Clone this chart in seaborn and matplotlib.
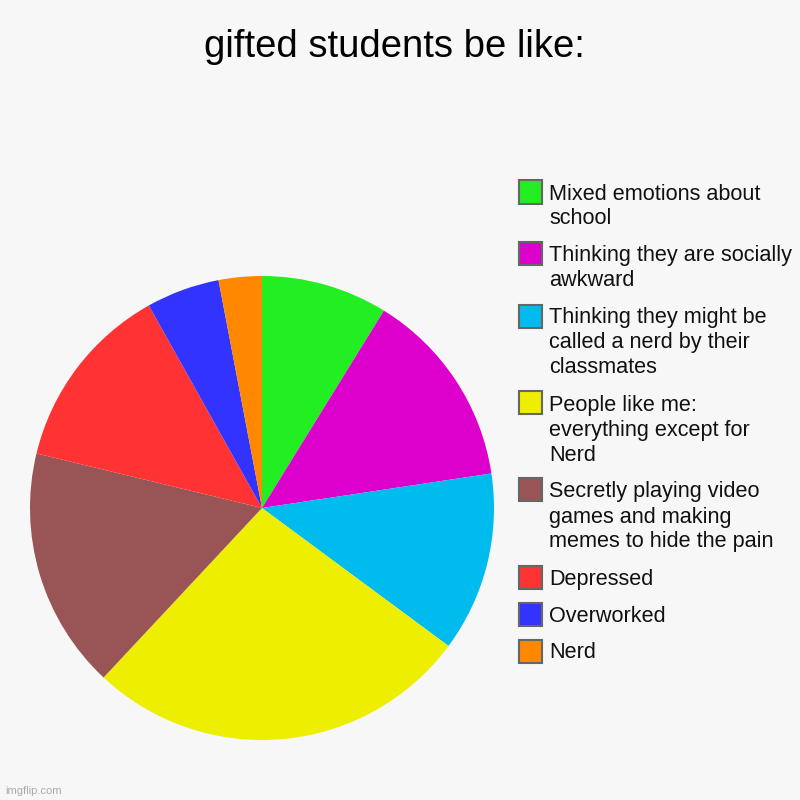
import matplotlib
matplotlib.use("Agg")
import matplotlib.pyplot as plt
from matplotlib.patches import Rectangle
import seaborn as sns

labels = [
    "Mixed emotions about\nschool",
    "Thinking they are socially\nawkward",
    "Thinking they might be\ncalled a nerd by their\nclassmates",
    "People like me:\neverything except for\nNerd",
    "Secretly playing video\ngames and making\nmemes to hide the pain",
    "Depressed",
    "Overworked",
    "Nerd",
]
values = [8.8, 13.8, 12.5, 26.8, 16.8, 13.1, 5.1, 3.0]
colors = ["#22EE22", "#DD00CC", "#00BBEE", "#EEEE00", "#995555", "#FF3333", "#3333FF", "#FF8800"]

sns.set_style("white")
plt.rcParams['font.family'] = ['Liberation Sans', 'DejaVu Sans']

W = H = 800
fig = plt.figure(figsize=(8, 8), dpi=100)
bg = "#f7f7f7"
fig.patch.set_facecolor(bg)

cx, cy, r = 262, 508, 232
ax = fig.add_axes([(cx - r) / W, (H - cy - r) / H, 2 * r / W, 2 * r / H])
ax.set_facecolor(bg)
ax.pie(values, colors=colors, startangle=90, counterclock=False,
       wedgeprops=dict(linewidth=0), radius=1)
ax.set_xlim(-1, 1)
ax.set_ylim(-1, 1)
ax.set_aspect("equal")
ax.axis("off")

fig.text(394 / W, 1 - 47 / H, "gifted students be like:", ha="center", va="center",
         fontsize=27.5, color="#000000")

# legend
line_h = 25
gap = 12
y = 192
box = 23
for lab, col in zip(labels, colors):
    n = lab.count("\n") + 1
    fig.patches.append(Rectangle(((519) / W, 1 - (y + box / 2) / H), box / W, box / H,
                                 transform=fig.transFigure, facecolor=col,
                                 edgecolor="#666666", linewidth=1.5))
    fig.text(549 / W, 1 - (y + 7.5 + (n - 1) * line_h) / H, lab, ha="left", va="baseline",
             fontsize=15.6, color="#111111", linespacing=1.25)
    y += n * line_h + gap

fig.text(5 / W, 1 - 791 / H, "imgflip.com", ha="left", va="center", fontsize=8, color="#aaaaaa")

fig.savefig("out.png", dpi=100, facecolor=bg)
